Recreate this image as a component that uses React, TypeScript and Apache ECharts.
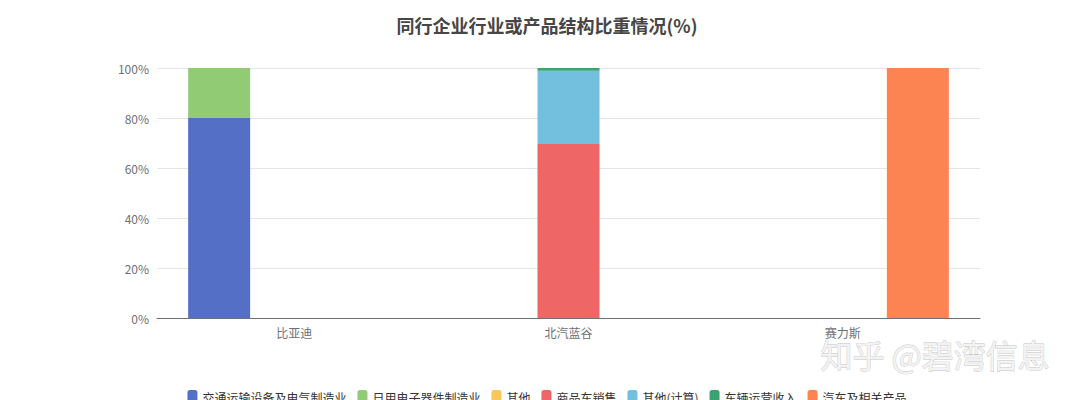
import React, { useEffect, useRef } from "react";
import * as echarts from "echarts";

const categories = ["比亚迪", "北汽蓝谷", "赛力斯"];
const jiaotong = [80.2, 0, 0];
const riyong = [19.8, 0, 0];
const qita = [0, 0, 0];
const shangpinche = [0, 69.6, 0];
const qitaCalc = [0, 29.3, 0];
const cheliang = [0, 1.1, 0];
const qiche = [0, 0, 100];
const yTicks = [0, 20, 40, 60, 80, 100];
const palette = ["#5470c6", "#91cc75", "#fac858", "#ee6666", "#73c0de", "#3ba272", "#fc8452"];

export default function App() {
  const ref = useRef<HTMLDivElement>(null);
  useEffect(() => {
    if (!ref.current) return;
    const chart = echarts.init(ref.current, undefined, { renderer: "svg" });
    const font = '"Noto Sans CJK SC", "Microsoft YaHei", sans-serif';
    const bar = { type: "bar", barWidth: 62, barGap: "21%" };
    chart.setOption({
      animation: false,
      color: palette,
      textStyle: { fontFamily: font },
      title: {
        text: "同行企业行业或产品结构比重情况(%)",
        left: "center",
        top: 11,
        textStyle: { fontSize: 18, fontWeight: "bold", color: "#464646", fontFamily: font },
      },
      legend: {
        top: 385,
        left: "center",
        itemWidth: 10,
        itemHeight: 14,
        itemGap: 11,
        textStyle: { fontSize: 12, color: "#333", fontFamily: font },
        icon: "roundRect",
      },
      grid: { left: 157, right: 114, top: 68, bottom: 82, containLabel: false },
      xAxis: {
        type: "category",
        data: categories,
        axisLine: { lineStyle: { color: "#6E7079" } },
        axisTick: { lineStyle: { color: "#6E7079" } },
        axisLabel: { color: "#6E7079", fontSize: 12, fontFamily: font },
      },
      yAxis: {
        type: "value",
        min: yTicks[0],
        max: yTicks[yTicks.length - 1],
        interval: 20,
        axisLine: { show: false },
        axisTick: { show: false },
        axisLabel: { formatter: "{value}%", color: "#6E7079", fontSize: 12, fontFamily: font },
        splitLine: { lineStyle: { color: "#E3E5EA" } },
      },
      series: [
        { ...bar, name: "交通运输设备及电气制造业", stack: "a", data: jiaotong },
        { ...bar, name: "日用电子器件制造业", stack: "a", data: riyong },
        { ...bar, name: "其他", stack: "a", data: qita },
        { ...bar, name: "商品车销售", stack: "b", data: shangpinche },
        { ...bar, name: "其他(计算)", stack: "b", data: qitaCalc },
        { ...bar, name: "车辆运营收入", stack: "b", data: cheliang },
        { ...bar, name: "汽车及相关产品", stack: "c", data: qiche },
      ],
      graphic: [
        {
          type: "text",
          left: 820,
          top: 338,
          silent: true,
          style: {
            text: "知乎 @碧湾信息",
            font: '32px "Noto Sans CJK SC", sans-serif',
            fill: "#f3f3f3",
            stroke: "#c4c4c4",
            lineWidth: 0.8,
            shadowColor: "rgba(0,0,0,0.25)",
            shadowBlur: 1,
            shadowOffsetX: 1,
            shadowOffsetY: 1,
          },
        },
      ],
    });
    return () => chart.dispose();
  }, []);
  return (
    <div style={{ position: "absolute", left: 0, top: 0, width: 1080, height: 400, overflow: "hidden", background: "#fff" }}>
      <div ref={ref} style={{ width: 1094, height: 400 }} />
    </div>
  );
}
